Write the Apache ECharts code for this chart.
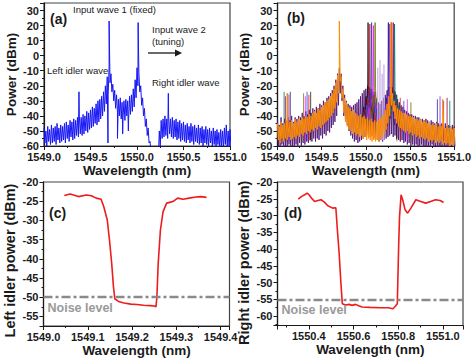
<!DOCTYPE html>
<html><head><meta charset="utf-8">
<script src="https://cdn.jsdelivr.net/npm/echarts@6/dist/echarts.min.js"></script>
<style>html,body{margin:0;padding:0;background:#fff}#c{width:474px;height:361px}</style>
</head><body><div id="c"></div>
<script>
// ================= DATA =================
// Panel (a): spectrum envelope sampled every 0.02 nm from 1549.00 nm (upper / lower of the noise band, dBm)
const wlStartA = 1549.0, wlStepA = 0.02;
const upperA = [-48,-50,-47,-49,-46,-48,-47,-45,-48,-46,-47,-45,-44,-46,-43,-44,-42,-43,-41,-40,-41,-39,-40,-37,-38,-36,-34,-35,-32,-30,-29,-27,-24,-20,-14,-7,-12,-19,-23,-26,-29,-28,-31,-30,-29,-30,-27,-26,-22,-16,-8,-11,-20,-28,-35,-42,-48,-57,-64,-65,-65,-64,-50,-43,-42,-40,-42,-40,-42,-41,-43,-42,-44,-43,-45,-44,-46,-45,-47,-45,-47,-46,-48,-46,-48,-47,-49,-47,-49,-48,-50,-48,-50,-49,-51,-49,-50,-48,-46,-50,-49];
const lowerA = [-58,-60,-57,-59,-58,-57,-59,-56,-58,-57,-56,-58,-55,-57,-54,-56,-55,-53,-54,-52,-53,-52,-50,-51,-49,-48,-47,-45,-46,-44,-42,-40,-37,-32,-26,-18,-24,-30,-35,-38,-40,-42,-41,-43,-40,-42,-39,-37,-34,-28,-20,-24,-33,-40,-47,-53,-58,-63,-66,-66,-66,-66,-60,-55,-54,-53,-55,-52,-54,-55,-54,-56,-55,-57,-56,-57,-58,-56,-58,-57,-59,-57,-58,-59,-58,-60,-58,-59,-60,-58,-60,-59,-61,-59,-61,-60,-61,-59,-60,-61,-60];
const spikeXA = [1549.376, 1549.700, 1550.012, 1550.337];
const spikeTopA = [-24, 23, 22, -25];
const dipXA = [1549.688, 1549.790, 1549.846, 1549.907];
const dipBottomA = [-58, -55, -52, -50];

// Panel (b): background of all tuned scans, and the last (orange) scan, sampled every 0.02 nm
const wlStartB = 1549.0, wlStepB = 0.02;
const upperBgB = [-42,-46,-41,-45,-42,-44,-41,-43,-40,-44,-41,-42,-40,-41,-38,-40,-37,-39,-36,-38,-35,-36,-34,-35,-32,-33,-30,-31,-28,-27,-25,-23,-20,-16,-12,-8,-12,-20,-26,-30,-32,-33,-34,-33,-32,-31,-29,-27,-25,-23,-22,-20,-21,-22,-24,-26,-29,-31,-32,-30,-28,-26,-23,-21,-20,-21,-23,-26,-29,-31,-33,-34,-36,-37,-38,-39,-39,-40,-40,-41,-41,-42,-42,-43,-42,-43,-44,-43,-44,-45,-44,-45,-46,-45,-46,-45,-47,-46,-47,-46,-47];
const lowerBgB = [-60,-62,-59,-61,-60,-62,-59,-61,-60,-62,-59,-61,-58,-60,-58,-59,-57,-58,-56,-57,-55,-57,-55,-56,-53,-55,-52,-53,-50,-51,-48,-46,-44,-40,-33,-25,-30,-40,-44,-46,-50,-53,-55,-57,-56,-58,-57,-56,-55,-54,-53,-52,-54,-53,-55,-54,-56,-57,-56,-57,-56,-55,-54,-53,-52,-54,-53,-55,-56,-57,-56,-58,-57,-59,-58,-60,-59,-61,-59,-60,-61,-59,-61,-60,-62,-60,-61,-59,-62,-60,-61,-62,-60,-61,-62,-60,-61,-62,-60,-61,-62];
const upperOrB = [-45,-47,-44,-46,-45,-43,-46,-44,-43,-45,-42,-44,-42,-43,-41,-42,-40,-41,-39,-40,-38,-37,-38,-35,-36,-34,-33,-31,-30,-29,-27,-25,-22,-18,-13,-7,-14,-22,-28,-31,-34,-35,-37,-36,-38,-39,-40,-39,-41,-40,-42,-41,-43,-42,-44,-43,-44,-43,-42,-41,-39,-36,-32,-27,-21,-25,-30,-33,-35,-36,-37,-38,-38,-39,-40,-40,-41,-41,-42,-42,-43,-42,-44,-43,-44,-45,-44,-46,-45,-46,-45,-47,-46,-47,-46,-48,-47,-48,-47,-49,-48];
const lowerOrB = [-56,-58,-55,-57,-55,-56,-54,-56,-55,-54,-55,-53,-54,-52,-53,-51,-52,-50,-51,-49,-50,-48,-49,-47,-48,-46,-45,-44,-43,-41,-40,-38,-35,-31,-25,-17,-28,-38,-44,-47,-49,-50,-52,-51,-53,-52,-54,-53,-55,-54,-56,-55,-56,-57,-56,-57,-56,-57,-55,-54,-52,-49,-45,-40,-33,-37,-42,-45,-47,-48,-49,-50,-51,-50,-52,-51,-53,-52,-54,-53,-55,-54,-55,-56,-55,-57,-56,-57,-56,-58,-57,-58,-57,-59,-58,-59,-58,-60,-59,-60,-59];
const spikeXOrB = [1549.115, 1549.700, 1550.285, 1550.870];
const spikeTopOrB = [-25, 23, 22, -29];
// tuned scans (pump 2 position, its peak, idler positions and peaks)
const pumpXB = [1550.025, 1550.045, 1550.065, 1550.085, 1550.105, 1550.255, 1550.270, 1550.290, 1550.310, 1550.325];
const pumpTopB = [22, 21, 22, 20, 22, 22, 21, 22, 22, 21];
const leftIdlerXB = [1549.375, 1549.355, 1549.335, 1549.315, 1549.295, 1549.145, 1549.130, 1549.110, 1549.090, 1549.075];
const leftIdlerTopB = [-24, -26, -24, -27, -25, -24, -26, -25, -27, -24];
const rightIdlerXB = [1550.350, 1550.390, 1550.430, 1550.470, 1550.510, 1550.810, 1550.840, 1550.880, 1550.920, 1550.950];
const rightIdlerTopB = [-26, -28, -30, -29, -31, -29, -27, -30, -28, -30];
const idlerBaseB = [-56, -57];
const tentOffsetB = [-0.07, -0.05, -0.035, -0.022, -0.012, -0.005, 0.005, 0.012, 0.022, 0.035, 0.05, 0.07];
const tentB = [
  [-46,-34,-41,-27,-33,-21,-23,-31,-25,-37,-33,-45],
  [-44,-36,-39,-28,-34,-20,-24,-30,-27,-36,-32,-46],
  [-47,-33,-40,-26,-32,-22,-21,-33,-26,-38,-31,-44],
  [-45,-35,-42,-29,-31,-21,-25,-29,-24,-35,-34,-47],
  [-48,-36,-39,-27,-34,-23,-22,-32,-28,-39,-35,-45],
  [-45,-35,-40,-28,-33,-22,-23,-31,-26,-36,-33,-46],
  [-46,-33,-41,-27,-31,-20,-24,-30,-25,-37,-32,-44],
  [-44,-36,-38,-29,-34,-21,-22,-33,-27,-35,-34,-47],
  [-47,-34,-42,-26,-32,-23,-25,-29,-24,-38,-31,-45],
  [-45,-35,-39,-28,-33,-22,-23,-32,-26,-36,-33,-46]
];
const faintXB = [1550.135, 1550.160, 1550.185, 1550.205];
const faintTopB = [-8, -3, -12, -6];
const faintBaseB = -56;

// Panel (c): left idler power vs wavelength
const wlC = [1549.047,1549.060,1549.079,1549.097,1549.108,1549.119,1549.130,1549.136,1549.144,1549.149,1549.154,1549.158,1549.161,1549.171,1549.182,1549.197,1549.211,1549.226,1549.241,1549.250,1549.254,1549.256,1549.259,1549.264,1549.270,1549.278,1549.285,1549.292,1549.303,1549.315,1549.329,1549.344,1549.355,1549.368];
const powC = [-23.5,-23.1,-23.8,-23.4,-23.6,-24.2,-24.5,-26.4,-29.9,-35.1,-41.2,-47.3,-50.4,-51.2,-51.5,-51.8,-51.9,-52.1,-52.2,-52.3,-52.5,-50,-41.2,-32.5,-27.7,-25.5,-25.3,-25.1,-24.2,-24.5,-24.2,-23.9,-23.8,-24];
const noiseC = -50;

// Panel (d): right idler power vs wavelength
const wlD = [1550.353,1550.368,1550.382,1550.393,1550.401,1550.412,1550.426,1550.441,1550.455,1550.470,1550.485,1550.507,1550.521,1550.528,1550.536,1550.543,1550.550,1550.565,1550.580,1550.594,1550.609,1550.623,1550.638,1550.674,1550.718,1550.755,1550.777,1550.788,1550.796,1550.802,1550.806,1550.813,1550.820,1550.831,1550.842,1550.857,1550.879,1550.901,1550.923,1550.945,1550.967,1550.988,1551.003];
const powD = [-25.1,-24.3,-23.8,-23.3,-23.8,-24.8,-25.8,-25.5,-25.3,-26.0,-27.1,-27.8,-27.7,-34.4,-41.4,-49.4,-56.3,-56.7,-56.5,-56.8,-56.5,-56.9,-57.3,-57.4,-57.5,-57.5,-57.8,-57.0,-56.3,-39.4,-30.4,-23.8,-25.3,-28.3,-29.3,-27.8,-25.3,-25.8,-26.3,-25.8,-25.3,-25.5,-26.1];
const noiseD = -55;

const scanColorsB = ['#111111','#e01010','#2a3ce0','#e020e0','#6b6b00','#1a1a80','#8a2be2','#7a007a','#900030','#007070'];

// ================= BUILD =================
function zigzag(start, step, up, low) {
  const pts = [];
  for (let i = 0; i < up.length; i++) {
    const x = start + step * i;
    pts.push([x, up[i]]);
    pts.push([x + step / 2, low[i]]);
  }
  return pts;
}
function withPoints(pts, xs, ys) {
  xs.forEach((x, i) => pts.push([x, ys[i]]));
  pts.sort((a, b) => a[0] - b[0]);
  return pts;
}
const dataA = withPoints(withPoints(zigzag(wlStartA, wlStepA, upperA, lowerA), spikeXA, spikeTopA), dipXA, dipBottomA);
const dataBg = zigzag(wlStartB, wlStepB, upperBgB, lowerBgB);
const dataOr = withPoints(zigzag(wlStartB, wlStepB, upperOrB, lowerOrB), spikeXOrB, spikeTopOrB);
function scanTent(k) {
  const d = [];
  tentOffsetB.forEach((o, j) => {
    if (j === 6) d.push([pumpXB[k], pumpTopB[k]]);
    d.push([pumpXB[k] + o, tentB[k][j]]);
  });
  return d;
}
function scanIdlers(k) {
  return [
    [leftIdlerXB[k] - 0.002, idlerBaseB[0]], [leftIdlerXB[k], leftIdlerTopB[k]], [leftIdlerXB[k] + 0.002, idlerBaseB[1]],
    [leftIdlerXB[k], null],
    [rightIdlerXB[k] - 0.002, idlerBaseB[0]], [rightIdlerXB[k], rightIdlerTopB[k]], [rightIdlerXB[k] + 0.002, idlerBaseB[1]]
  ];
}
const dataFaint = [];
faintXB.forEach((x, i) => { dataFaint.push([x - 0.002, faintBaseB], [x, faintTopB[i]], [x + 0.002, faintBaseB], [x, null]); });

// ================= STYLE HELPERS =================
const FF = 'Liberation Sans, Arial, sans-serif';
const INK = '#1a1a1a';
function xAx(gi, min, max, interval, extra) {
  return Object.assign({
    type: 'value', gridIndex: gi, min: min, max: max, interval: interval,
    axisLine: { show: true, onZero: false, lineStyle: { color: INK, width: 1.2 } },
    axisTick: { show: true, length: 4, lineStyle: { color: INK, width: 1 } },
    minorTick: { show: true, splitNumber: 2, length: 2, lineStyle: { color: INK, width: 1 } },
    splitLine: { show: false }, minorSplitLine: { show: false },
    axisLabel: { fontSize: 11, fontWeight: 'bold', color: INK, margin: 5, fontFamily: FF, hideOverlap: false, formatter: v => v.toFixed(1) },
    name: 'Wavelength (nm)', nameLocation: 'middle', nameGap: 17,
    nameTextStyle: { fontSize: 13.5, fontWeight: 'bold', color: INK, fontFamily: FF }
  }, extra || {});
}
function yAx(gi, min, max, interval, name, nameSize, pad, extra) {
  const o = {
    type: 'value', gridIndex: gi, min: min, max: max,
    axisLine: { show: true, onZero: false, lineStyle: { color: INK, width: 1.2 } },
    axisTick: { show: true, length: 4, lineStyle: { color: INK, width: 1 } },
    minorTick: { show: true, splitNumber: 2, length: 2, lineStyle: { color: INK, width: 1 } },
    splitLine: { show: false }, minorSplitLine: { show: false },
    axisLabel: { fontSize: 11, fontWeight: 'bold', color: INK, margin: 5, fontFamily: FF, hideOverlap: false },
    name: name, nameLocation: 'middle', nameGap: 26,
    nameTextStyle: { fontSize: nameSize, fontWeight: 'bold', color: INK, fontFamily: FF, padding: pad }
  };
  if (interval) o.interval = interval;
  return Object.assign(o, extra || {});
}
const gridStyle = { show: true, borderColor: '#444', borderWidth: 1.2, backgroundColor: 'transparent' };

function lineS(xi, data, color, width, z, extra) {
  return Object.assign({ type: 'line', xAxisIndex: xi, yAxisIndex: xi, data: data, showSymbol: false, symbol: 'none',
    connectNulls: false, lineStyle: { color: color, width: width }, animation: false, z: z }, extra || {});
}
const series = [];
series.push(lineS(0, dataA, '#1717f5', 1.0, 2));
series.push(lineS(1, dataBg, '#551a78', 0.9, 2));
for (let k = 0; k < pumpXB.length; k++) {
  series.push(lineS(1, scanTent(k), scanColorsB[k], 0.8, 3));
  series.push(lineS(1, scanIdlers(k), scanColorsB[k], 0.6, 3, { lineStyle: { color: scanColorsB[k], width: 0.6, opacity: 0.75 } }));
}
series.push(lineS(1, dataFaint, '#c9aee8', 0.8, 3));
series.push(lineS(1, dataOr, '#ff8c00', 1.0, 4));
function noiseMark(v) {
  return { silent: true, symbol: ['none', 'none'], animation: false,
    data: [{ yAxis: v }],
    lineStyle: { color: '#8a8a8a', width: 2.4, type: [9, 3, 3, 3] },
    label: { show: true, position: 'insideStartBottom', formatter: 'Noise level', color: '#9a9a9a', fontWeight: 'bold', fontSize: 12.5, fontFamily: FF, distance: 4 } };
}
series.push(lineS(2, wlC.map((x, i) => [x, powC[i]]), '#ee1c1c', 1.6, 3, { markLine: noiseMark(noiseC) }));
series.push(lineS(3, wlD.map((x, i) => [x, powD[i]]), '#ee1c1c', 1.6, 3, { markLine: noiseMark(noiseD) }));

function txt(x, y, s, font) {
  return { type: 'text', x: x, y: y, z: 100, silent: true, style: { text: s, font: font, fill: INK, verticalAlign: 'middle', align: 'left' } };
}
const small = 'normal 9.5px ' + FF;
const letter = 'bold 14px ' + FF;

const option = {
  animation: false,
  backgroundColor: '#fff',
  grid: [
    Object.assign({ left: 44, top: 3, width: 186, height: 143 }, gridStyle),
    Object.assign({ left: 277.5, top: 3, width: 186, height: 143 }, gridStyle),
    Object.assign({ left: 43.5, top: 182, width: 186, height: 144 }, gridStyle),
    Object.assign({ left: 277.5, top: 182, width: 185.5, height: 143.5 }, gridStyle)
  ],
  xAxis: [
    xAx(0, 1549, 1551, 0.5),
    xAx(1, 1549, 1551, 0.5),
    xAx(2, 1549.0, 1549.42, 0.1, {}),
    xAx(3, 1550.26, 1551.09, null, { splitNumber: 4 })
  ],
  yAxis: [
    yAx(0, -60, 35, 10, 'Power (dBm)', 13.5, 0),
    yAx(1, -60, 35, 10, 'Power (dBm)', 13.5, 0),
    yAx(2, -57.5, -20, null, 'Left idler power (dBm)', 14.5, [0, 13, 0, 0], { splitNumber: 8 }),
    yAx(3, -62.8, -20, null, 'Right idler power (dBm)', 14.5, [0, 18, 0, 0], { splitNumber: 9 })
  ],
  series: series,
  graphic: [
    txt(50, 19, '(a)', letter),
    txt(287, 18, '(b)', letter),
    txt(49, 213, '(c)', letter),
    txt(284, 213, '(d)', letter),
    txt(73, 9.5, 'Input wave 1 (fixed)', small),
    txt(152, 29, 'Input wave 2', small),
    txt(152, 41, '(tuning)', small),
    txt(47, 70, 'Left idler wave', small),
    txt(152, 82, 'Right idler wave', small),
    { type: 'line', z: 100, silent: true, shape: { x1: 148, y1: 53, x2: 176, y2: 53 }, style: { stroke: INK, lineWidth: 1.3 } },
    { type: 'polygon', z: 100, silent: true, shape: { points: [[175, 49.5], [182, 53], [175, 56.5]] }, style: { fill: INK } }
  ]
};
option.yAxis[0].axisLabel.showMaxLabel = false;
option.yAxis[1].axisLabel.showMaxLabel = false;
option.yAxis[2].axisLabel.showMinLabel = false;
option.yAxis[3].axisLabel.showMinLabel = false;
option.xAxis[2].axisLabel.showMaxLabel = false;
option.xAxis[3].axisLabel.showMinLabel = false;
option.xAxis[3].axisLabel.showMaxLabel = false;
option.yAxis.forEach(a => { a.axisLabel.formatter = v => String(Math.round(v)); });

const chart = echarts.init(document.getElementById('c'), null, { renderer: 'svg' });
chart.setOption(option);
</script></body></html>
